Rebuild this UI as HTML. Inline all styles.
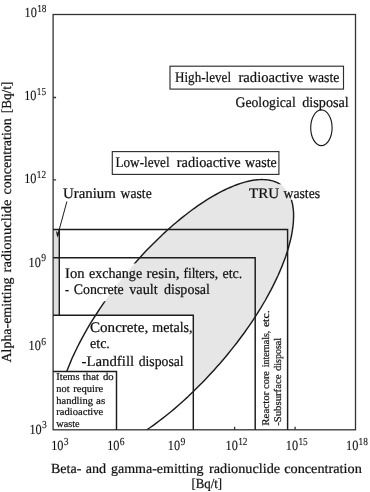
<!DOCTYPE html>
<html><head><meta charset="utf-8">
<style>
html,body{margin:0;padding:0;background:#fff;}
body{width:370px;height:492px;overflow:hidden;}
svg{display:block;}
text{font-family:"Liberation Serif","Times New Roman",Times,serif;fill:#111;stroke:#111;stroke-width:0.22px;text-rendering:geometricPrecision;}
.t{font-size:14.6px;}
.s{font-size:10.2px;}
.ax{font-size:13.8px;}
.sp{font-size:10.7px;}
.tk{font-size:14.1px;stroke-width:0.1px;}
.f{fill:none;stroke:#333;stroke-width:1.3;}
.l{fill:none;stroke:#1c1c1c;stroke-width:1.45;}
</style></head><body>
<svg width="370" height="492" viewBox="0 0 370 492">
<defs>
<clipPath id="fr"><rect x="53.1" y="14.5" width="302.4" height="415.3"/></clipPath>
<clipPath id="ko"><path d="M0 0H370V492H0Z M276 184.3H325V199.8H276Z M60 263.5H250V301.2H60Z" clip-rule="evenodd"/></clipPath>
</defs>
<rect width="370" height="492" fill="#fff"/>
<g clip-path="url(#fr)"><path d="M68.8 444.8 67.6 443.6 66.4 442.4 65.3 441.0 64.3 439.6 63.4 438.1 62.5 436.5 61.7 434.8 61.0 433.1 60.4 431.3 59.8 429.4 59.3 427.4 58.9 425.4 58.5 423.3 58.3 421.1 58.1 418.9 57.9 416.6 57.9 414.2 57.9 411.7 58.0 409.2 58.2 406.7 58.5 404.0 58.9 401.3 59.3 398.6 59.8 395.8 60.4 392.9 61.1 389.9 61.8 387.0 62.7 383.9 63.6 380.8 64.6 377.7 65.7 374.5 66.8 371.3 68.1 368.0 69.4 364.7 70.8 361.4 72.2 358.0 73.8 354.6 75.4 351.2 77.1 347.8 78.8 344.3 80.6 340.8 82.5 337.3 84.4 333.8 86.5 330.2 88.5 326.7 90.6 323.2 92.8 319.6 95.1 316.0 97.4 312.5 99.7 308.9 102.1 305.4 104.5 301.9 107.0 298.3 109.6 294.8 112.1 291.3 114.8 287.8 117.4 284.3 120.1 280.9 122.9 277.5 125.6 274.1 128.5 270.7 131.3 267.3 134.2 264.0 137.1 260.7 140.0 257.5 142.9 254.3 145.9 251.1 148.9 248.0 151.9 244.9 155.0 241.9 158.0 238.9 161.1 236.0 164.1 233.1 167.2 230.3 170.3 227.5 173.4 224.8 176.5 222.2 179.6 219.6 182.7 217.1 185.8 214.7 188.9 212.3 191.9 210.0 195.0 207.8 198.0 205.7 201.1 203.6 204.1 201.6 207.1 199.7 210.0 197.9 213.0 196.1 215.9 194.5 218.8 192.9 221.6 191.4 224.5 190.0 227.3 188.7 230.0 187.5 232.7 186.3 235.4 185.2 238.1 184.3 240.7 183.4 243.2 182.6 245.7 181.9 248.2 181.3 250.6 180.8 252.9 180.3 255.2 180.0 257.5 179.8 259.7 179.6 261.8 179.5 263.9 179.6 265.9 179.7 267.9 179.9 269.8 180.2 271.6 180.6 273.4 181.1 275.1 181.7 276.7 182.4 278.3 183.2 279.7 184.0 281.2 185.0 282.5 186.0 283.8 187.2 285.0 188.4 286.1 189.7 287.1 191.1 288.1 192.6 289.0 194.1 289.8 195.8 290.5 197.5 291.2 199.3 291.8 201.2 292.3 203.1 292.7 205.2 293.0 207.3 293.3 209.5 293.5 211.7 293.6 214.1 293.6 216.4 293.5 218.9 293.4 221.4 293.2 224.0 292.9 226.7 292.5 229.4 292.1 232.1 291.6 235.0 291.0 237.8 290.3 240.8 289.5 243.8 288.7 246.8 287.8 249.9 286.8 253.0 285.8 256.2 284.6 259.4 283.4 262.6 282.1 265.9 280.7 269.3 279.3 272.6 277.8 276.0 276.2 279.4 274.5 282.9 272.8 286.4 271.0 289.9 269.1 293.4 267.2 296.9 265.2 300.5 263.1 304.0 261.0 307.6 258.8 311.1 256.6 314.7 254.2 318.3 251.9 321.8 249.5 325.4 247.0 328.9 244.5 332.5 241.9 336.0 239.3 339.5 236.7 343.0 234.0 346.4 231.2 349.9 228.5 353.3 225.7 356.7 222.9 360.0 220.0 363.4 217.1 366.6 214.2 369.9 211.3 373.1 208.3 376.3 205.3 379.4 202.4 382.5 199.3 385.6 196.3 388.6 193.3 391.6 190.2 394.5 187.2 397.4 184.1 400.2 181.0 403.0 177.9 405.7 174.9 408.4 171.8 411.0 168.7 413.5 165.6 416.0 162.5 418.4 159.4 420.8 156.3 423.1 153.3 425.3 150.2 427.5 147.2 429.5 144.2 431.5 141.1 433.5 138.2 435.3 135.2 437.1 132.3 438.7 129.3 440.3 126.5 441.8 123.6 443.2 120.8 444.5 118.1 445.7 115.3 446.8 112.7 447.8 110.0 448.7 107.4 449.5 104.9 450.2 102.4 450.8 100.0 451.3 97.7 451.7 95.4 452.0 93.1 452.2 90.9 452.3 88.8 452.3 86.8 452.2 84.8 452.0 82.9 451.7 81.0 451.3 79.3 450.8 77.6 450.2 75.9 449.5 74.3 448.8 72.8 447.9 71.4 447.0 70.1 445.9Z" fill="#e6e6e6"/></g>
<rect x="53.1" y="229.5" width="6.2" height="85.7" fill="#dedede"/>
<rect x="53.1" y="315.2" width="140.2" height="114.6" fill="#fff"/>
<g clip-path="url(#fr)"><g clip-path="url(#ko)"><path d="M68.8 444.8 67.6 443.6 66.4 442.4 65.3 441.0 64.3 439.6 63.4 438.1 62.5 436.5 61.7 434.8 61.0 433.1 60.4 431.3 59.8 429.4 59.3 427.4 58.9 425.4 58.5 423.3 58.3 421.1 58.1 418.9 57.9 416.6 57.9 414.2 57.9 411.7 58.0 409.2 58.2 406.7 58.5 404.0 58.9 401.3 59.3 398.6 59.8 395.8 60.4 392.9 61.1 389.9 61.8 387.0 62.7 383.9 63.6 380.8 64.6 377.7 65.7 374.5 66.8 371.3 68.1 368.0 69.4 364.7 70.8 361.4 72.2 358.0 73.8 354.6 75.4 351.2 77.1 347.8 78.8 344.3 80.6 340.8 82.5 337.3 84.4 333.8 86.5 330.2 88.5 326.7 90.6 323.2 92.8 319.6 95.1 316.0 97.4 312.5 99.7 308.9 102.1 305.4 104.5 301.9 107.0 298.3 109.6 294.8 112.1 291.3 114.8 287.8 117.4 284.3 120.1 280.9 122.9 277.5 125.6 274.1 128.5 270.7 131.3 267.3 134.2 264.0 137.1 260.7 140.0 257.5 142.9 254.3 145.9 251.1 148.9 248.0 151.9 244.9 155.0 241.9 158.0 238.9 161.1 236.0 164.1 233.1 167.2 230.3 170.3 227.5 173.4 224.8 176.5 222.2 179.6 219.6 182.7 217.1 185.8 214.7 188.9 212.3 191.9 210.0 195.0 207.8 198.0 205.7 201.1 203.6 204.1 201.6 207.1 199.7 210.0 197.9 213.0 196.1 215.9 194.5 218.8 192.9 221.6 191.4 224.5 190.0 227.3 188.7 230.0 187.5 232.7 186.3 235.4 185.2 238.1 184.3 240.7 183.4 243.2 182.6 245.7 181.9 248.2 181.3 250.6 180.8 252.9 180.3 255.2 180.0 257.5 179.8 259.7 179.6 261.8 179.5 263.9 179.6 265.9 179.7 267.9 179.9 269.8 180.2 271.6 180.6 273.4 181.1 275.1 181.7 276.7 182.4 278.3 183.2 279.7 184.0 281.2 185.0 282.5 186.0 283.8 187.2 285.0 188.4 286.1 189.7 287.1 191.1 288.1 192.6 289.0 194.1 289.8 195.8 290.5 197.5 291.2 199.3 291.8 201.2 292.3 203.1 292.7 205.2 293.0 207.3 293.3 209.5 293.5 211.7 293.6 214.1 293.6 216.4 293.5 218.9 293.4 221.4 293.2 224.0 292.9 226.7 292.5 229.4 292.1 232.1 291.6 235.0 291.0 237.8 290.3 240.8 289.5 243.8 288.7 246.8 287.8 249.9 286.8 253.0 285.8 256.2 284.6 259.4 283.4 262.6 282.1 265.9 280.7 269.3 279.3 272.6 277.8 276.0 276.2 279.4 274.5 282.9 272.8 286.4 271.0 289.9 269.1 293.4 267.2 296.9 265.2 300.5 263.1 304.0 261.0 307.6 258.8 311.1 256.6 314.7 254.2 318.3 251.9 321.8 249.5 325.4 247.0 328.9 244.5 332.5 241.9 336.0 239.3 339.5 236.7 343.0 234.0 346.4 231.2 349.9 228.5 353.3 225.7 356.7 222.9 360.0 220.0 363.4 217.1 366.6 214.2 369.9 211.3 373.1 208.3 376.3 205.3 379.4 202.4 382.5 199.3 385.6 196.3 388.6 193.3 391.6 190.2 394.5 187.2 397.4 184.1 400.2 181.0 403.0 177.9 405.7 174.9 408.4 171.8 411.0 168.7 413.5 165.6 416.0 162.5 418.4 159.4 420.8 156.3 423.1 153.3 425.3 150.2 427.5 147.2 429.5 144.2 431.5 141.1 433.5 138.2 435.3 135.2 437.1 132.3 438.7 129.3 440.3 126.5 441.8 123.6 443.2 120.8 444.5 118.1 445.7 115.3 446.8 112.7 447.8 110.0 448.7 107.4 449.5 104.9 450.2 102.4 450.8 100.0 451.3 97.7 451.7 95.4 452.0 93.1 452.2 90.9 452.3 88.8 452.3 86.8 452.2 84.8 452.0 82.9 451.7 81.0 451.3 79.3 450.8 77.6 450.2 75.9 449.5 74.3 448.8 72.8 447.9 71.4 447.0 70.1 445.9Z" class="l"/></g></g>
<rect x="53.1" y="371.5" width="63.4" height="58.3" fill="#fff"/>
<rect x="53.1" y="14.5" width="302.4" height="415.3" class="f"/>
<path class="f" d="M53.1 97.5h3M53.1 179.8h3M234.6 429.8v-3M295.1 429.8v-3"/>
<path class="l" d="M53.1 229.5H287.6V429.8"/>
<path class="l" d="M53.1 257.7H255.2V429.8"/>
<path class="l" d="M59.3 229.5V315.2"/>
<path class="l" d="M53.1 315.2H193.3V429.8"/>
<path class="l" d="M53.1 371.5H116.5V429.8"/>
<rect x="170" y="66.2" width="173.5" height="22.9" fill="#fff" class="l" style="stroke-width:1.15;stroke:#2e2e2e"/>
<rect x="112.3" y="151.6" width="166.6" height="22.8" fill="#fff" class="l" style="stroke-width:1.15;stroke:#2e2e2e"/>
<ellipse cx="321.4" cy="127.8" rx="10.7" ry="17.8" fill="#fff" class="l" style="stroke-width:1.15"/>
<path class="l" style="stroke-width:1" d="M66.9 201.5L57.9 234.5"/>
<path d="M57.2 237.4L56 230.9L57.9 232.7L60.2 231.9Z" fill="#1c1c1c"/>
<text class="t" y="82"><tspan x="175.0" textLength="56.1" lengthAdjust="spacingAndGlyphs">High-level</tspan> <tspan x="238.5" textLength="64.8" lengthAdjust="spacingAndGlyphs">radioactive</tspan> <tspan x="308.2" textLength="31.1" lengthAdjust="spacingAndGlyphs">waste</tspan></text>
<text class="t" y="107.1"><tspan x="235.5" textLength="60.2" lengthAdjust="spacingAndGlyphs">Geological</tspan> <tspan x="302.2" textLength="46.6" lengthAdjust="spacingAndGlyphs">disposal</tspan></text>
<text class="t" y="167.4"><tspan x="115.5" textLength="54.1" lengthAdjust="spacingAndGlyphs">Low-level</tspan> <tspan x="176.8" textLength="63.9" lengthAdjust="spacingAndGlyphs">radioactive</tspan> <tspan x="245.0" textLength="31.7" lengthAdjust="spacingAndGlyphs">waste</tspan></text>
<text class="t" y="197.6"><tspan x="63.0" textLength="52.8" lengthAdjust="spacingAndGlyphs">Uranium</tspan> <tspan x="120.6" textLength="31.1" lengthAdjust="spacingAndGlyphs">waste</tspan></text>
<text class="t" y="197.5"><tspan x="248.9" textLength="30.3" lengthAdjust="spacingAndGlyphs">TRU</tspan> <tspan x="283.5" textLength="36.6" lengthAdjust="spacingAndGlyphs">wastes</tspan></text>
<text class="t" y="277.5"><tspan x="65.1" textLength="19.5" lengthAdjust="spacingAndGlyphs">Ion</tspan> <tspan x="88.9" textLength="53.3" lengthAdjust="spacingAndGlyphs">exchange</tspan> <tspan x="146.5" textLength="32.9" lengthAdjust="spacingAndGlyphs">resin,</tspan> <tspan x="183.5" textLength="34.5" lengthAdjust="spacingAndGlyphs">filters,</tspan> <tspan x="222.4" textLength="19.9" lengthAdjust="spacingAndGlyphs">etc.</tspan></text>
<text class="t" y="293.9"><tspan x="65.1" textLength="4.1" lengthAdjust="spacingAndGlyphs">-</tspan> <tspan x="73.7" textLength="50.1" lengthAdjust="spacingAndGlyphs">Concrete</tspan> <tspan x="129.2" textLength="28.6" lengthAdjust="spacingAndGlyphs">vault</tspan> <tspan x="164.0" textLength="46.0" lengthAdjust="spacingAndGlyphs">disposal</tspan></text>
<text class="t" y="332.3"><tspan x="90.0" textLength="58.2" lengthAdjust="spacingAndGlyphs">Concrete,</tspan> <tspan x="152.3" textLength="40.3" lengthAdjust="spacingAndGlyphs">metals,</tspan></text>
<text class="t" y="348"><tspan x="90.0" textLength="19.9" lengthAdjust="spacingAndGlyphs">etc.</tspan></text>
<text class="t" y="366.3"><tspan x="81.6" textLength="52.5" lengthAdjust="spacingAndGlyphs">-Landfill</tspan> <tspan x="138.7" textLength="45.0" lengthAdjust="spacingAndGlyphs">disposal</tspan></text>
<text class="s" y="379.7"><tspan x="56.3" textLength="23.3" lengthAdjust="spacingAndGlyphs">Items</tspan> <tspan x="82.8" textLength="16.1" lengthAdjust="spacingAndGlyphs">that</tspan> <tspan x="103.0" textLength="10.7" lengthAdjust="spacingAndGlyphs">do</tspan></text>
<text class="s" y="391.6"><tspan x="56.3" textLength="13.3" lengthAdjust="spacingAndGlyphs">not</tspan> <tspan x="73.3" textLength="30.0" lengthAdjust="spacingAndGlyphs">require</tspan></text>
<text class="s" y="403.6"><tspan x="56.3" textLength="36.6" lengthAdjust="spacingAndGlyphs">handling</tspan> <tspan x="96.0" textLength="9.2" lengthAdjust="spacingAndGlyphs">as</tspan></text>
<text class="s" y="415.3"><tspan x="56.3" textLength="47.0" lengthAdjust="spacingAndGlyphs">radioactive</tspan></text>
<text class="s" y="427"><tspan x="56.3" textLength="23.3" lengthAdjust="spacingAndGlyphs">waste</tspan></text>
<text class="s" transform="translate(268.5 425.8) rotate(-90)" y="0"><tspan x="0.0" textLength="34.2" lengthAdjust="spacingAndGlyphs">Reactor</tspan> <tspan x="36.9" textLength="17.9" lengthAdjust="spacingAndGlyphs">core</tspan> <tspan x="58.5" textLength="36.6" lengthAdjust="spacingAndGlyphs">internals,</tspan> <tspan x="98.7" textLength="16.7" lengthAdjust="spacingAndGlyphs">etc.</tspan></text>
<text class="s" transform="translate(281.4 425.8) rotate(-90)" y="0"><tspan x="0.0" textLength="51.3" lengthAdjust="spacingAndGlyphs">-Subsurface</tspan> <tspan x="55.1" textLength="32.7" lengthAdjust="spacingAndGlyphs">disposal</tspan></text>
<text class="tk" y="17.3"><tspan x="24.6" textLength="12.3" lengthAdjust="spacingAndGlyphs">10</tspan><tspan class="sp" x="37.2" dy="-5.3" textLength="9.3" lengthAdjust="spacingAndGlyphs">18</tspan></text>
<text class="tk" y="100.4"><tspan x="24.2" textLength="12.3" lengthAdjust="spacingAndGlyphs">10</tspan><tspan class="sp" x="36.8" dy="-5.3" textLength="9.3" lengthAdjust="spacingAndGlyphs">15</tspan></text>
<text class="tk" y="183.1"><tspan x="24.2" textLength="12.3" lengthAdjust="spacingAndGlyphs">10</tspan><tspan class="sp" x="36.8" dy="-5.3" textLength="9.3" lengthAdjust="spacingAndGlyphs">12</tspan></text>
<text class="tk" y="266.7"><tspan x="28.6" textLength="12.3" lengthAdjust="spacingAndGlyphs">10</tspan><tspan class="sp" x="41.2" dy="-5.3" textLength="4.8" lengthAdjust="spacingAndGlyphs">9</tspan></text>
<text class="tk" y="350.3"><tspan x="28.6" textLength="12.3" lengthAdjust="spacingAndGlyphs">10</tspan><tspan class="sp" x="41.2" dy="-5.3" textLength="4.8" lengthAdjust="spacingAndGlyphs">6</tspan></text>
<text class="tk" y="433.5"><tspan x="29.4" textLength="12.3" lengthAdjust="spacingAndGlyphs">10</tspan><tspan class="sp" x="42.0" dy="-5.3" textLength="4.8" lengthAdjust="spacingAndGlyphs">3</tspan></text>
<text class="tk" y="450.1"><tspan x="51.2" textLength="12.3" lengthAdjust="spacingAndGlyphs">10</tspan><tspan class="sp" x="63.8" dy="-5.3" textLength="4.8" lengthAdjust="spacingAndGlyphs">3</tspan></text>
<text class="tk" y="450.1"><tspan x="107.2" textLength="12.3" lengthAdjust="spacingAndGlyphs">10</tspan><tspan class="sp" x="119.8" dy="-5.3" textLength="4.8" lengthAdjust="spacingAndGlyphs">6</tspan></text>
<text class="tk" y="450.1"><tspan x="167.8" textLength="12.3" lengthAdjust="spacingAndGlyphs">10</tspan><tspan class="sp" x="180.4" dy="-5.3" textLength="4.8" lengthAdjust="spacingAndGlyphs">9</tspan></text>
<text class="tk" y="450.1"><tspan x="225.6" textLength="12.3" lengthAdjust="spacingAndGlyphs">10</tspan><tspan class="sp" x="238.2" dy="-5.3" textLength="9.3" lengthAdjust="spacingAndGlyphs">12</tspan></text>
<text class="tk" y="450.1"><tspan x="285.8" textLength="12.3" lengthAdjust="spacingAndGlyphs">10</tspan><tspan class="sp" x="298.4" dy="-5.3" textLength="9.3" lengthAdjust="spacingAndGlyphs">15</tspan></text>
<text class="tk" y="450.1"><tspan x="346.0" textLength="12.3" lengthAdjust="spacingAndGlyphs">10</tspan><tspan class="sp" x="358.6" dy="-5.3" textLength="9.3" lengthAdjust="spacingAndGlyphs">18</tspan></text>
<text class="ax" y="472.5"><tspan x="51.0" textLength="30.3" lengthAdjust="spacingAndGlyphs">Beta-</tspan> <tspan x="85.7" textLength="20.4" lengthAdjust="spacingAndGlyphs">and</tspan> <tspan x="111.0" textLength="92.5" lengthAdjust="spacingAndGlyphs">gamma-emitting</tspan> <tspan x="209.0" textLength="71.1" lengthAdjust="spacingAndGlyphs">radionuclide</tspan> <tspan x="284.2" textLength="77.6" lengthAdjust="spacingAndGlyphs">concentration</tspan></text>
<text class="ax" y="487.6"><tspan x="191.5" textLength="30.6" lengthAdjust="spacingAndGlyphs">[Bq/t]</tspan></text>
<text class="ax" transform="translate(10.9 362.5) rotate(-90)" y="0"><tspan x="0.0" textLength="85.1" lengthAdjust="spacingAndGlyphs">Alpha-emitting</tspan> <tspan x="90.1" textLength="73.0" lengthAdjust="spacingAndGlyphs">radionuclide</tspan> <tspan x="168.1" textLength="76.2" lengthAdjust="spacingAndGlyphs">concentration</tspan> <tspan x="249.3" textLength="31.4" lengthAdjust="spacingAndGlyphs">[Bq/t]</tspan></text>
</svg>
</body></html>
